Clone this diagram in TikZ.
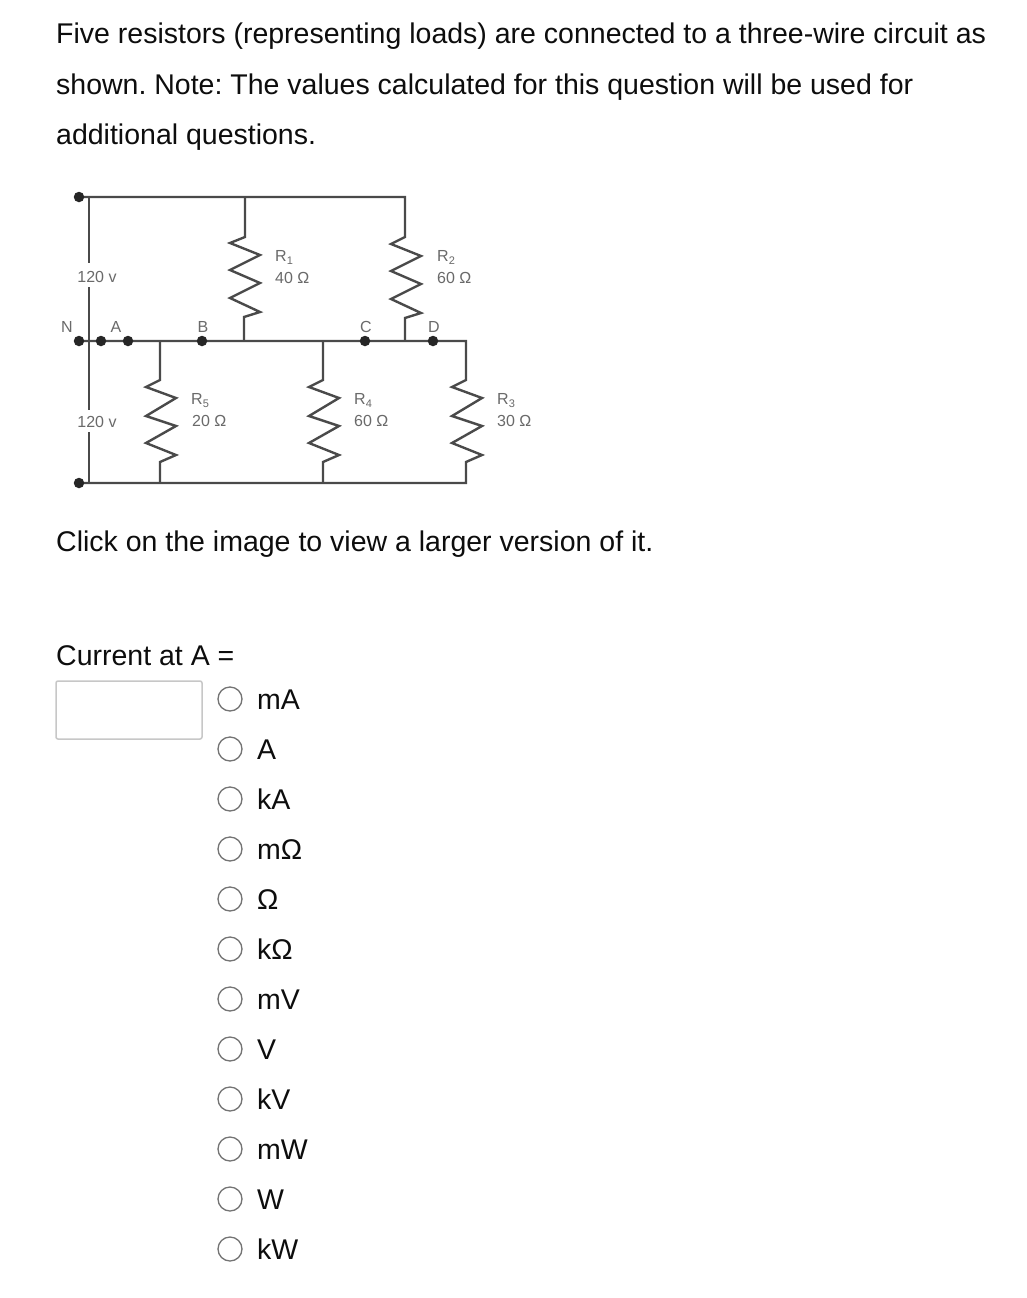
\documentclass[tikz,border=0pt]{standalone}
\usepackage{fontspec}
\setmainfont{Liberation Sans}
\frenchspacing
\newcommand{\qsize}{\fontsize{28.5}{34}\selectfont}
\newcommand{\lsize}{\fontsize{16}{18}\selectfont}
\newcommand{\subs}[1]{\raisebox{-3pt}{\fontsize{11}{12}\selectfont #1}}
\definecolor{wire}{HTML}{4A4A4A}
\definecolor{lab}{HTML}{6A6A6A}
\pgfdeclarelayer{wires}
\pgfdeclarelayer{paper}
\pgfsetlayers{paper,wires,main}
\tikzset{
  wireline/.style={draw=wire,line width=2.4pt,line join=miter},
  termdot/.style={circle,fill=black!85,inner sep=0pt,minimum size=10.5pt},
  qtext/.style={anchor=base west,inner sep=0pt,text=black!95,font=\qsize},
  clabel/.style={anchor=base,inner sep=0pt,text=lab,font=\lsize},
  rlabel/.style={clabel,anchor=base west},
  radiobtn/.style={circle,draw=black!55,line width=1.3pt,minimum size=24pt,inner sep=0pt},
  inputbox/.style={draw=black!22,line width=1.5pt,rounded corners=2pt},
}
\begin{document}
\begin{tikzpicture}[x=1pt,y=-1pt]
\useasboundingbox (0,0) rectangle (1026,1298);
\begin{pgfonlayer}{paper}
\fill[white] (0,0) rectangle (1026,1298);
\end{pgfonlayer}
% question text
\node[qtext] (t1) at (56,44) {Five resistors (representing loads) are connected to a three-wire circuit as};
\node[qtext] (t2) at (56,94) {shown. Note: The values calculated for this question will be used for};
\node[qtext] (t3) at (56,144) {additional questions.};
\node[qtext] (t4) at (56,551) {Click on the image to view a larger version of it.};
\node[qtext] (t5) at (56,665) {Current at A =};
% terminals
\node[termdot] (top) at (79,197) {};
\node[termdot] (N) at (79,341) {};
\node[termdot] (bot) at (79,483) {};
\node[termdot] (A1) at (101,341) {};
\node[termdot] (A2) at (128,341) {};
\node[termdot] (B) at (202,341) {};
\node[termdot] (C) at (365,341) {};
\node[termdot] (D) at (433,341) {};
% junctions
\coordinate (topR) at (405,197);
\coordinate (r1t) at (245,197);
\coordinate (r1b) at (244,341);
\coordinate (r2b) at (405,341);
\coordinate (r5t) at (160,341);
\coordinate (r5b) at (160,483);
\coordinate (r4t) at (323,341);
\coordinate (r4b) at (323,483);
\coordinate (r3t) at (466,341);
\coordinate (r3b) at (466,483);
\coordinate (vt) at (89,197);
\coordinate (vb) at (89,483);
% 120 v labels
\node[clabel] (v1) at (97,282) {120 v};
\node[clabel] (v2) at (97,427) {120 v};
% wires
\begin{pgfonlayer}{wires}
\draw[wireline] (top.center) -- (topR) -- (405,237) -- ++(-14,7) -- ++(30,12) -- ++(-30,15) -- ++(30,13) -- ++(-30,15) -- ++(30,14) -- ++(-16,5) -- (r2b);
\draw[wireline] (N.center) -- (r3t) -- (466,380) -- ++(-14,7) -- ++(30,11) -- ++(-30,18) -- ++(30,10) -- ++(-30,17) -- ++(30,12) -- ++(-16,7) -- (r3b) -- (bot.center);
\draw[wireline] (vt) -- (89,263);
\draw[wireline] (89,287) -- (89,410);
\draw[wireline] (89,432) -- (vb);
\draw[wireline] (r1t) -- (245,237) -- ++(-15,6) -- ++(30,12) -- ++(-30,15) -- ++(30,13) -- ++(-30,15) -- ++(30,14) -- ++(-16,5) -- (r1b);
\draw[wireline] (r5t) -- (160,380) -- ++(-14,7) -- ++(30,11) -- ++(-30,18) -- ++(30,10) -- ++(-30,17) -- ++(30,12) -- ++(-16,7) -- (r5b);
\draw[wireline] (r4t) -- (323,380) -- ++(-14,7) -- ++(30,11) -- ++(-30,18) -- ++(30,10) -- ++(-30,17) -- ++(30,12) -- ++(-16,7) -- (r4b);
\end{pgfonlayer}
% letter labels
\node[clabel] (lN) at (67,332) {N};
\node[clabel] (lA) at (116,332) {A};
\node[clabel] (lB) at (203,332) {B};
\node[clabel] (lC) at (366,332) {C};
\node[clabel] (lD) at (434,332) {D};
% resistor labels
\node[rlabel] (R1) at (275,261) {R\subs{1}};
\node[rlabel] (R1v) at (275,283) {40 Ω};
\node[rlabel] (R2) at (437,261) {R\subs{2}};
\node[rlabel] (R2v) at (437,283) {60 Ω};
\node[rlabel] (R5) at (191,404) {R\subs{5}};
\node[rlabel] (R5v) at (192,426) {20 Ω};
\node[rlabel] (R4) at (354,404) {R\subs{4}};
\node[rlabel] (R4v) at (354,426) {60 Ω};
\node[rlabel] (R3) at (497,404) {R\subs{3}};
\node[rlabel] (R3v) at (497,426) {30 Ω};
% input
\draw[inputbox] (56,681) rectangle (202,739);
% radios
\foreach \y/\t [count=\i] in {699/mA,749/A,799/kA,849/mΩ,899/Ω,949/kΩ,999/mV,1049/V,1099/kV,1149/mW,1199/W,1249/kW}{
  \node[radiobtn] (rb\i) at (230,\y) {};
  \node[qtext] (rt\i) at (257,\y+10) {\t};
}
\end{tikzpicture}
\end{document}
